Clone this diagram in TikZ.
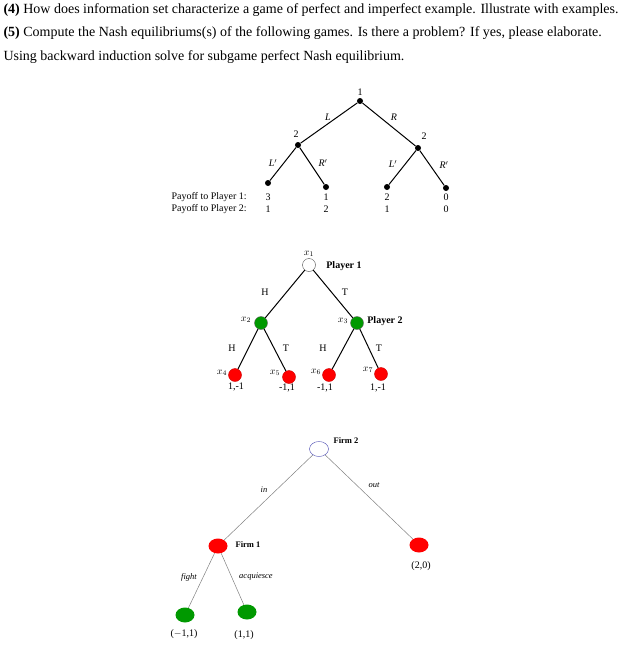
\documentclass[tikz,border=0pt]{standalone}
\usepackage{fontspec}
\setmainfont{Liberation Serif}
\usetikzlibrary{shapes.geometric}
\begin{document}
\begin{tikzpicture}[x=1pt,y=-1pt,
 dotn/.style={circle,fill=black,inner sep=0pt,minimum size=6pt},
 e1/.style={line width=1pt},
 cn/.style={circle,draw=black,inner sep=0pt,minimum size=13pt},
 en/.style={ellipse,inner sep=0pt,minimum width=19pt,minimum height=15pt},
 lb/.style={font=\fontsize{10}{11}\selectfont},
 lbi/.style={font=\itshape\fontsize{10}{11}\selectfont},
 e3/.style={draw=gray,line width=0.5pt}]
\useasboundingbox (0,0) rectangle (634,653);
\node[anchor=west,font=\fontsize{14}{16}\selectfont] (t1) at (0,10) {\textbf{(4)} How does information set characterize a game of perfect and imperfect example. Illustrate with examples.};
\node[anchor=west,font=\fontsize{14}{16}\selectfont] (t2) at (0,33) {\textbf{(5)} Compute the Nash equilibriums(s) of the following games. Is there a problem? If yes, please elaborate.};
\node[anchor=west,font=\fontsize{14}{16}\selectfont] (t3) at (0,57) {Using backward induction solve for subgame perfect Nash equilibrium.};
% tree 1
\node[dotn] (r) at (360,101) {};
\node[dotn] (a) at (298,145) {};
\node[dotn] (b) at (418,148) {};
\node[dotn] (l1) at (268,183) {};
\node[dotn] (l2) at (326,187) {};
\node[dotn] (l3) at (387,187) {};
\node[dotn] (l4) at (446,188) {};
\draw[e1] (r)--(a) (r)--(b) (a)--(l1) (a)--(l2) (b)--(l3) (b)--(l4);
\node[lb] (n1) at (360,92) {1};
\node[lbi] (nL) at (328,117) {L};
\node[lbi] (nR) at (394,117) {R};
\node[lb] (n2a) at (296,134) {2};
\node[lb] (n2b) at (424,136) {2};
\node[lbi] (c1) at (273,163) {L$'$};
\node[lbi] (c2) at (323,163) {R$'$};
\node[lbi] (c3) at (393,164) {L$'$};
\node[lbi] (c4) at (444,165) {R$'$};
\node[lb,anchor=west] (p1) at (168,197) {Payoff to Player 1:};
\node[lb,anchor=west] (p2) at (168,209) {Payoff to Player 2:};
\node[lb] (v11) at (268,197) {3}; \node[lb] (v12) at (268,209) {1};
\node[lb] (v21) at (326,197) {1}; \node[lb] (v22) at (326,209) {2};
\node[lb] (v31) at (387,197) {2}; \node[lb] (v32) at (387,209) {1};
\node[lb] (v41) at (446,197) {0}; \node[lb] (v42) at (446,209) {0};
% tree 2
\node[cn,draw=black!70,fill=white] (x1) at (309,265) {};
\node[cn,draw=black!60,fill=green!60!black] (x2) at (261,323) {};
\node[cn,draw=black!60,fill=green!60!black] (x3) at (357,323) {};
\node[cn,draw=red!80!black,fill=red] (x4) at (235,375) {};
\node[cn,draw=red!80!black,fill=red] (x5) at (289,377) {};
\node[cn,draw=red!80!black,fill=red] (x6) at (329,375) {};
\node[cn,draw=red!80!black,fill=red] (x7) at (381,374) {};
\draw[e1] (x1)--(x2) (x1)--(x3) (x2)--(x4) (x2)--(x5) (x3)--(x6) (x3)--(x7);
\node[lbi] (lx1) at (309,254) {$x_1$};
\node[lbi] (lx2) at (246,320) {$x_2$};
\node[lbi] (lx3) at (343,321) {$x_3$};
\node[lbi] (lx4) at (222,373) {$x_4$};
\node[lbi] (lx5) at (275,373) {$x_5$};
\node[lbi] (lx6) at (316,372) {$x_6$};
\node[lbi] (lx7) at (368,370) {$x_7$};
\node[lb,font=\bfseries\fontsize{10}{11}\selectfont] (pl1) at (344,266) {Player 1};
\node[lb,font=\bfseries\fontsize{10}{11}\selectfont] (pl2) at (385,321) {Player 2};
\node[lb] (h1) at (265,292) {H};
\node[lb] (t1b) at (345,292) {T};
\node[lb] (h2) at (232,348) {H};
\node[lb] (t2b) at (286,348) {T};
\node[lb] (h3) at (323,348) {H};
\node[lb] (t3b) at (379,348) {T};
\node[lb] (q4) at (236,387) {1,-1};
\node[lb] (q5) at (287,388) {-1,1};
\node[lb] (q6) at (325,388) {-1,1};
\node[lb] (q7) at (378,388) {1,-1};
% tree 3
\node[en,draw=blue!40!gray,fill=white] (f2) at (319,449) {};
\node[en,fill=red] (f1) at (218,546) {};
\node[en,fill=red] (fo) at (419,545) {};
\node[en,fill=green!60!black] (g1) at (185,615) {};
\node[en,fill=green!60!black] (g2) at (247,612) {};
\draw[e3] (f2)--(f1) (f2)--(fo) (f1)--(g1) (f1)--(g2);
\node[lb,font=\bfseries\fontsize{8.5}{9}\selectfont] (lf2) at (346,441) {Firm 2};
\node[lb,font=\bfseries\fontsize{8.5}{9}\selectfont] (lf1) at (248,545) {Firm 1};
\node[lbi,font=\itshape\fontsize{8.5}{9}\selectfont] (lin) at (264,490) {in};
\node[lbi,font=\itshape\fontsize{8.5}{9}\selectfont] (lout) at (374,485) {out};
\node[lbi,font=\itshape\fontsize{8.5}{9}\selectfont] (lfi) at (189,577) {fight};
\node[lbi,font=\itshape\fontsize{8.5}{9}\selectfont] (lac) at (256,577) {acquiesce};
\node[lb] (pp1) at (184,634) {($-$1,1)};
\node[lb] (pp2) at (244,635) {(1,1)};
\node[lb] (pp3) at (421,566) {(2,0)};
\end{tikzpicture}
\end{document}
